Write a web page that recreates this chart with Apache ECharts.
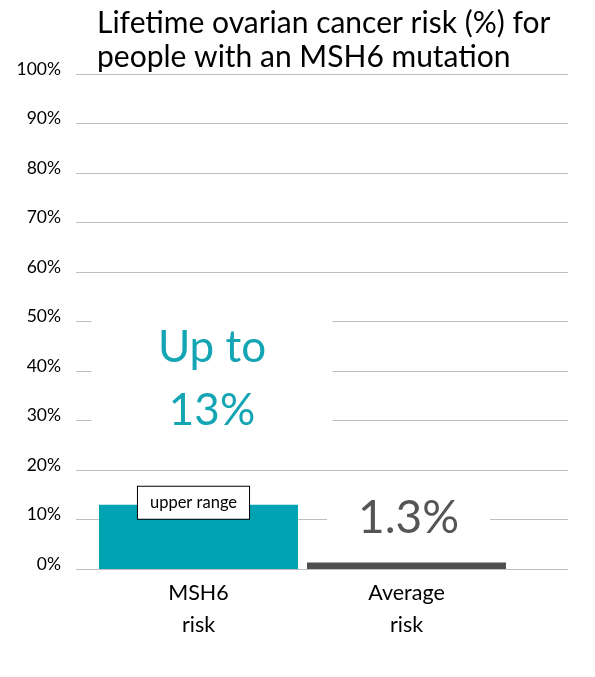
<!DOCTYPE html>
<html>
<head>
<meta charset="utf-8">
<script src="https://cdn.jsdelivr.net/npm/echarts@6/dist/echarts.min.js"></script>
<style>
  html, body { margin: 0; padding: 0; background: #fff; }
  #main { width: 595px; height: 677px; }
</style>
</head>
<body>
<div id="main"></div>
<script>
const categories = ['MSH6\nrisk', 'Average\nrisk'];
const riskValues = [13, 1.3];
const barColors = ['#00A3B2', '#4F4F4F'];
const yTicks = { min: 0, max: 100, interval: 10 };

const font = 'Lato, "Open Sans", sans-serif';

const chart = echarts.init(document.getElementById('main'), null, { renderer: 'canvas' });

const option = {
  backgroundColor: '#fff',
  animation: false,
  title: {
    text: 'Lifetime ovarian cancer risk (%) for\npeople with an MSH6 mutation',
    left: 92,
    top: 1,
    textStyle: {
      fontFamily: font,
      fontSize: 30,
      fontWeight: 'normal',
      color: '#000',
      lineHeight: 34
    }
  },
  grid: [
    // background grid with the percentage axis
    { left: 76, right: 27, top: 74, bottom: 108 },
    // bar grid, narrower so the bars sit where they do in the original
    { left: 94.5, width: 416, top: 74, bottom: 108 }
  ],
  xAxis: [
    { gridIndex: 0, type: 'value', show: false, min: 0, max: 1 },
    {
      gridIndex: 1,
      type: 'category',
      data: categories,
      axisLine: { show: false },
      axisTick: { show: false },
      axisLabel: {
        fontFamily: font,
        fontSize: 21.5,
        lineHeight: 32,
        color: '#000',
        margin: 8
      }
    }
  ],
  yAxis: [
    {
      gridIndex: 0,
      type: 'value',
      min: yTicks.min,
      max: yTicks.max,
      interval: yTicks.interval,
      axisLine: { show: false },
      axisTick: { show: false },
      splitLine: { lineStyle: { color: '#C0C0C0', width: 1 } },
      axisLabel: {
        formatter: '{value}%',
        fontFamily: font,
        fontSize: 17.5,
        color: '#000',
        margin: 15,
        verticalAlign: 'bottom',
        lineHeight: 10
      }
    },
    {
      gridIndex: 1,
      type: 'value',
      min: yTicks.min,
      max: yTicks.max,
      show: false
    }
  ],
  series: [{
    type: 'bar',
    xAxisIndex: 1,
    yAxisIndex: 1,
    barWidth: 199,
    data: [
      {
        value: riskValues[0],
        itemStyle: { color: barColors[0] },
        label: {
          show: true,
          position: 'top',
          distance: 52,
          offset: [13.5, 0],
          formatter: 'Up to\n13%',
          fontFamily: font,
          fontSize: 44,
          lineHeight: 63,
          color: '#13A5B4',
          backgroundColor: '#fff',
          width: 181,
          align: 'center',
          padding: [30, 30, 10, 30]
        }
      },
      {
        value: riskValues[1],
        itemStyle: { color: barColors[1] },
        label: {
          show: true,
          position: 'top',
          distance: 10,
          offset: [2, 0],
          formatter: '1.3%',
          fontFamily: font,
          fontSize: 46,
          lineHeight: 56,
          color: '#555555',
          backgroundColor: '#fff',
          width: 103,
          align: 'center',
          padding: [6, 30, 6, 30]
        }
      }
    ],
    markPoint: {
      symbol: 'rect',
      symbolSize: 0,
      data: [{
        coord: [categories[0], riskValues[0]],
        label: {
          show: true,
          position: 'inside',
          offset: [-5, -2],
          formatter: 'upper range',
          fontFamily: font,
          fontSize: 16.5,
          lineHeight: 20,
          color: '#000',
          backgroundColor: '#fff',
          borderColor: '#000',
          borderWidth: 1,
          padding: [6, 12, 6, 12]
        }
      }]
    }
  }]
};

chart.setOption(option);
</script>
</body>
</html>
